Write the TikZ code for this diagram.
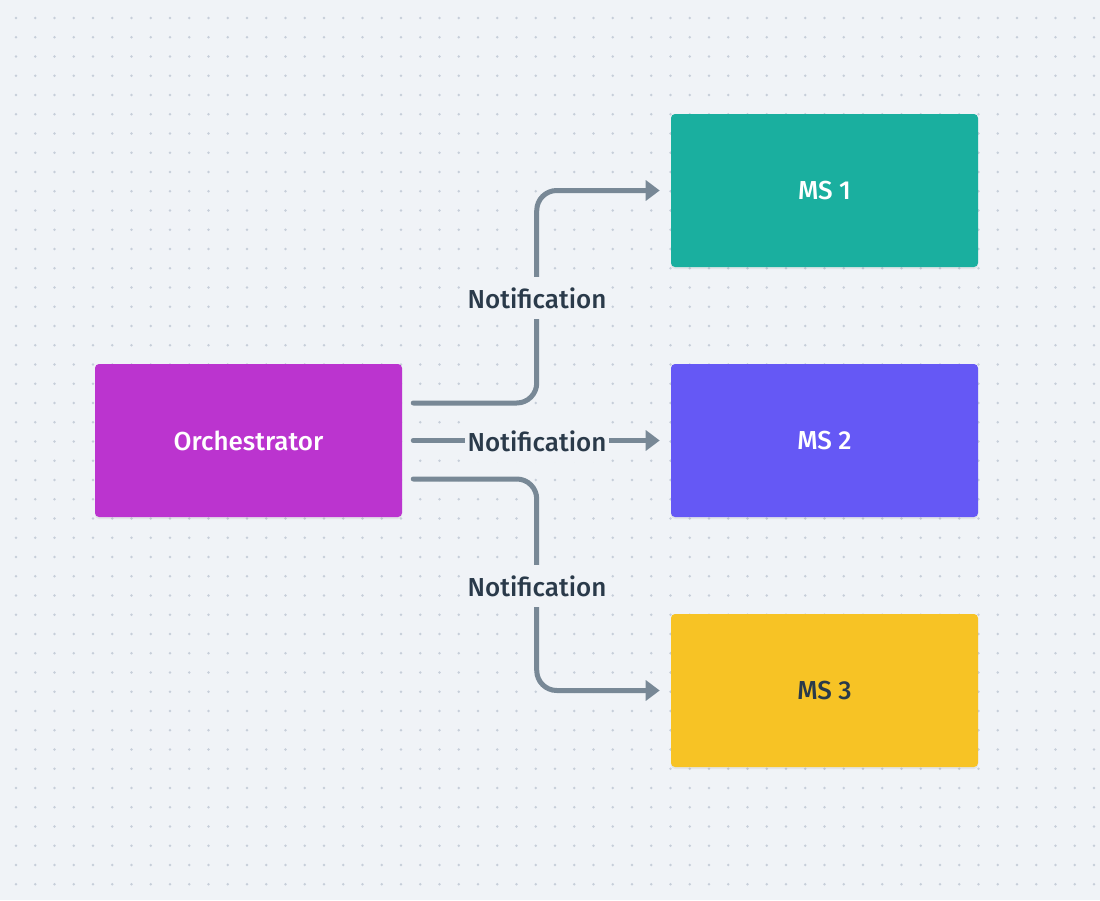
\documentclass[tikz,border=0pt]{standalone}
\usepackage{fontspec}
\setmainfont{Fira Sans}[BoldFont={Fira Sans Medium}]
\usetikzlibrary{arrows.meta,calc,shadows}
\definecolor{bg}{HTML}{F0F3F7}
\definecolor{dotc}{HTML}{C6CED9}
\definecolor{orchc}{HTML}{BB34CF}
\definecolor{msone}{HTML}{1AAF9F}
\definecolor{mstwo}{HTML}{6558F5}
\definecolor{msthree}{HTML}{F7C325}
\definecolor{linec}{HTML}{788896}
\definecolor{textc}{HTML}{2A3A4A}
\begin{document}
\begin{tikzpicture}[x=0.75pt,y=-0.75pt,
  box/.style={rectangle, rounded corners=3pt, minimum width=230.25pt, minimum height=114.75pt,
    font=\fontsize{19.5}{23}\selectfont\bfseries,
    drop shadow={opacity=0.12, shadow xshift=0pt, shadow yshift=-1.5pt}},
  conn/.style={draw=linec, line width=3.75pt, line cap=round, rounded corners=15pt,
    -{Triangle[length=10.5pt,width=15pt]}},
  lab/.style={fill=bg, text=textc, inner xsep=2pt, inner ysep=8pt,
    font=\fontsize{19.5}{23}\selectfont\bfseries}]
\fill[bg] (0,0) rectangle (1100,900);
\useasboundingbox (0,0) rectangle (1100,900);
\foreach \i in {0,...,56}{
  \foreach \j in {0,...,46}{
    \fill[dotc] ({16+19.25*\i},{18+19.25*\j}) circle (1.05pt);
  }
}
\node[box, fill=orchc, text=white] (orch) at (248.5,440.5) {Orchestrator};
\node[box, fill=msone, text=white] (ms1) at (824.5,190.5) {MS 1};
\node[box, fill=mstwo, text=white] (ms2) at (824.5,440.5) {MS 2};
\node[box, fill=msthree, text=textc] (ms3) at (824.5,690.5) {MS 3};
\draw[conn] ($(orch.east)+(11,-37.5)$) -| ($(ms1.west)+(-134,0)$) -- ($(ms1.west)+(-11,0)$);
\draw[conn] ($(orch.east)+(11,0)$) -- ($(ms2.west)+(-11,0)$);
\draw[conn] ($(orch.east)+(11,38.5)$) -| ($(ms3.west)+(-134,0)$) -- ($(ms3.west)+(-11,0)$);
\node[lab] (l1) at (537,298) {Notification};
\node[lab] (l2) at (537,441) {Notification};
\node[lab] (l3) at (537,586) {Notification};
\end{tikzpicture}
\end{document}
